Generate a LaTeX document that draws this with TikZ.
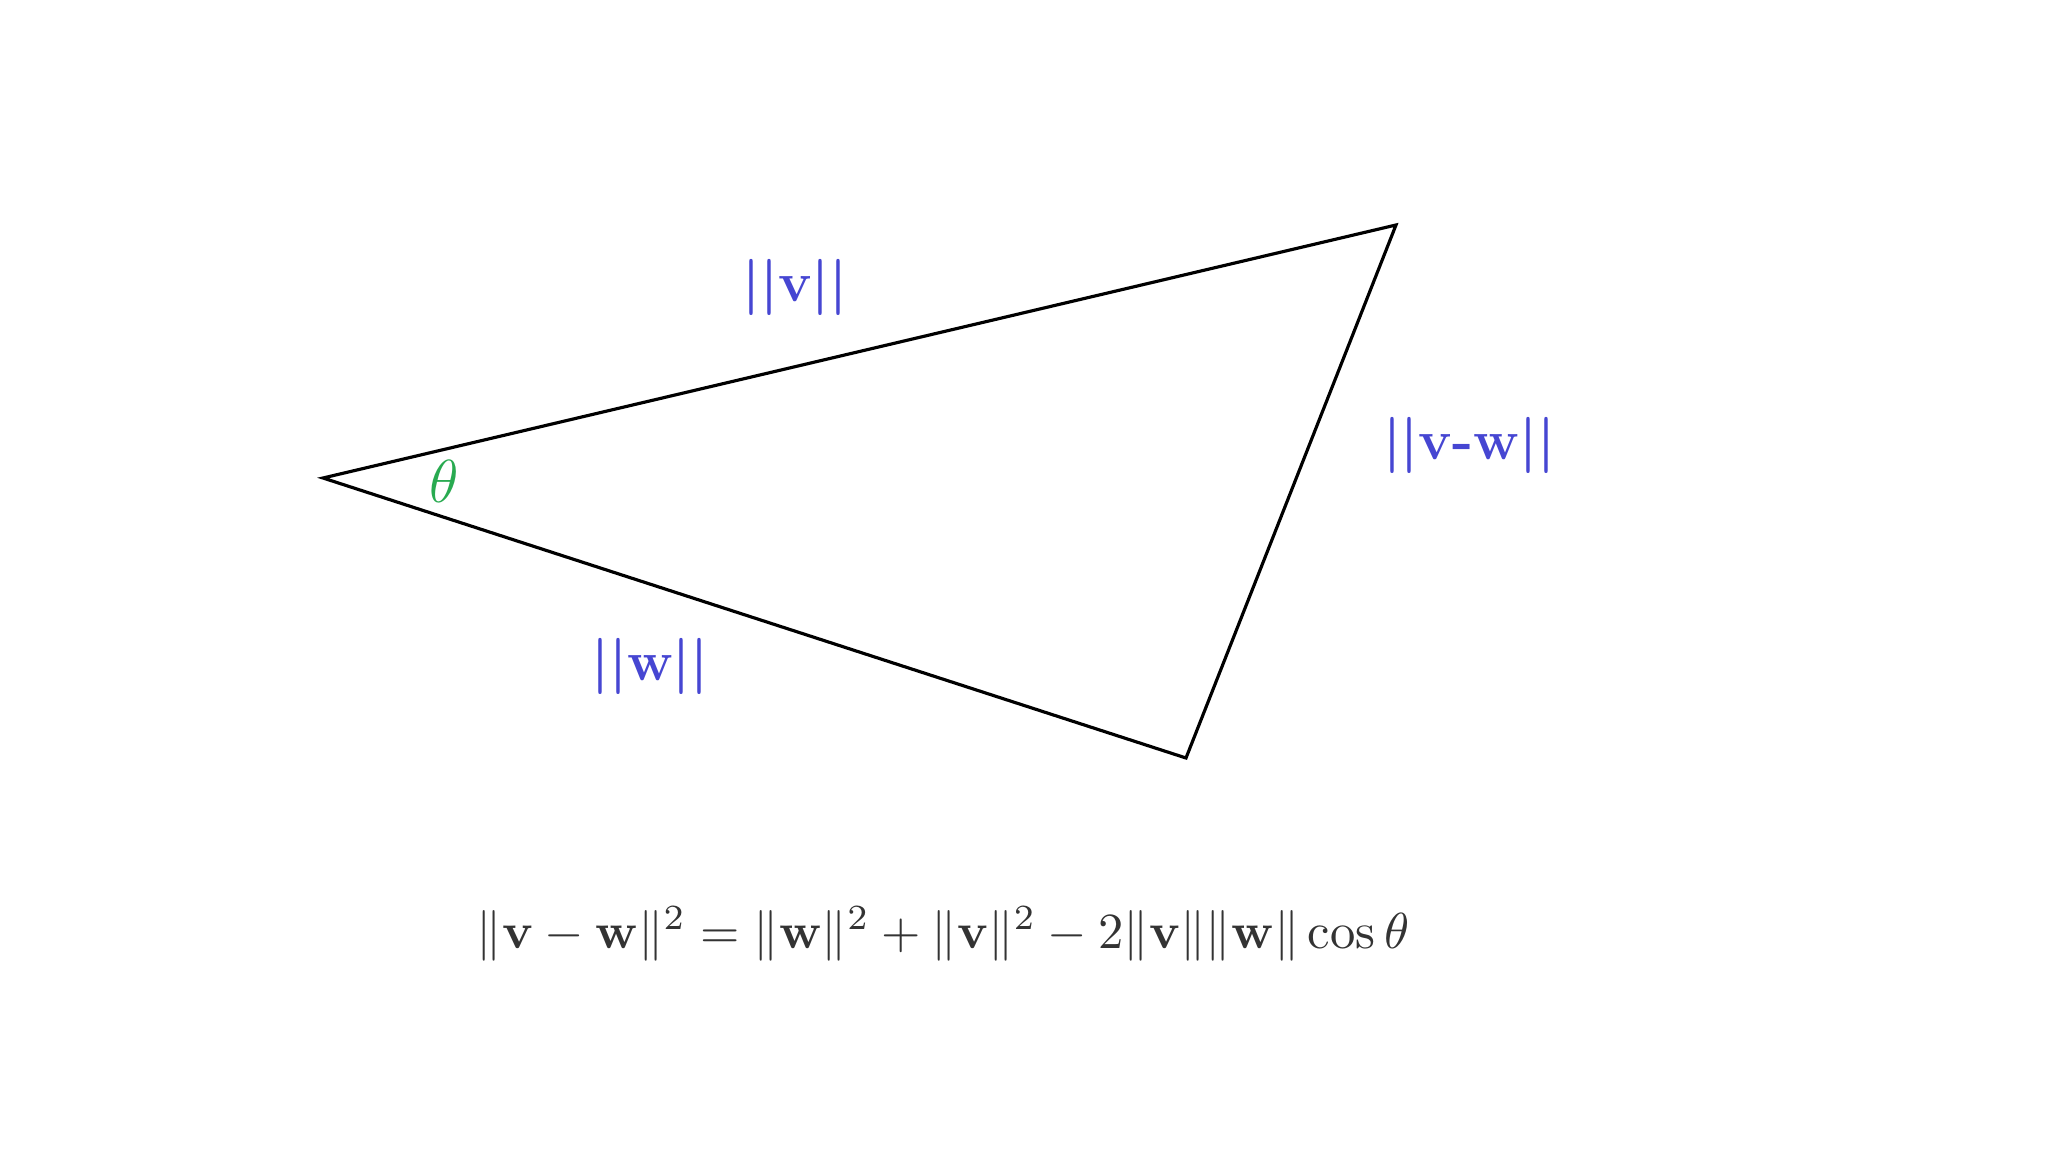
\documentclass[tikz,border=0pt]{standalone}
\usepackage{tikz}

\definecolor{normblue}{RGB}{70,70,210}
\definecolor{anglegreen}{RGB}{40,170,80}

\tikzset{
	normlabel/.style={text=normblue, font=\fontsize{16}{18}\selectfont\bfseries},
	anglelabel/.style={text=anglegreen, font=\fontsize{19}{21}\selectfont},
}

\begin{document}
\begin{tikzpicture}
				
				\useasboundingbox (0,0) rectangle (20.48,-11.52);
				
				\coordinate (A) at (3.23,-4.78);
				\coordinate (B) at (13.96,-2.25);
				\coordinate (C) at (11.86,-7.58);
				
				\draw[line width=0.9pt, line join=miter] (A) -- (B) -- (C) -- cycle;
				
				\node[normlabel] (NormV) at (7.95,-2.87) {||v||};
				\node[normlabel] (NormVW) at (14.69,-4.45) {||v-w||};
				\node[normlabel] (NormW) at (6.50,-6.66) {||w||};
				\node[anglelabel] (Theta) at (4.44,-4.81) {$\theta$};
				
				\node[scale=1.44, text=black!80] (Law) at (9.43,-9.34) {$\|\mathbf{v}-\mathbf{w}\|^2=\|\mathbf{w}\|^2+\|\mathbf{v}\|^2-2\|\mathbf{v}\|\|\mathbf{w}\|\cos\theta$};
				
			\end{tikzpicture}
\end{document}
